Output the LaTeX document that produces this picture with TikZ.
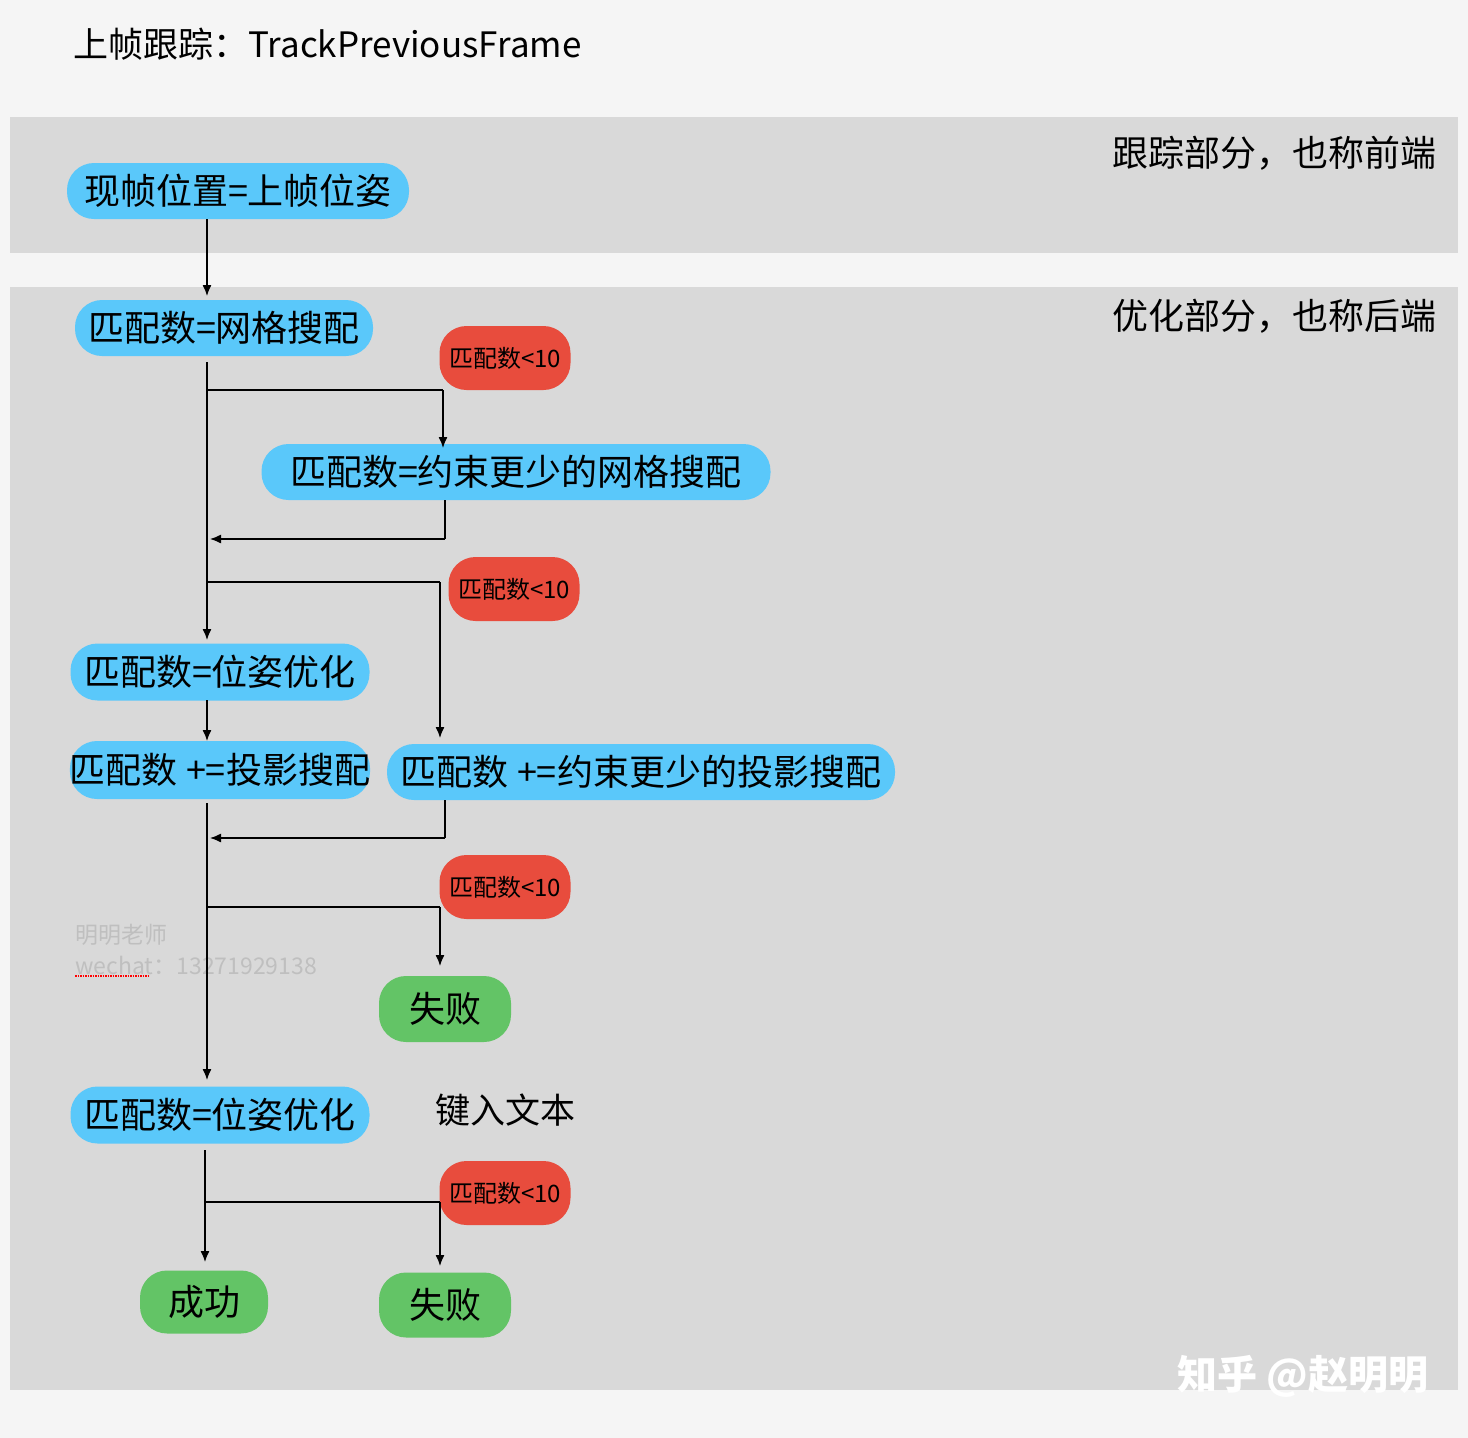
\documentclass[tikz,border=0pt]{standalone}
\usepackage{fontspec}
\setmainfont{Noto Sans CJK SC}
\usetikzlibrary{arrows.meta}
\definecolor{bgl}{HTML}{F5F5F5}
\definecolor{band}{HTML}{D9D9D9}
\definecolor{blu}{HTML}{5AC8FA}
\definecolor{rd}{HTML}{E84C3D}
\definecolor{gr}{HTML}{63C466}
\begin{document}
\begin{tikzpicture}[x=1pt,y=-1pt,
 pill/.style={rounded corners=27pt,inner sep=0pt,font=\fontsize{36}{38}\selectfont},
 bluebox/.style={pill,fill=blu},
 redbox/.style={pill,fill=rd,font=\fontsize{24}{26}\selectfont},
 greenbox/.style={pill,fill=gr},
 con/.style={line width=1.3pt,-{Latex[length=11pt,width=9pt]}},
 ln/.style={line width=1.3pt}]
\fill[bgl] (0,0) rectangle (1468,1438);
\useasboundingbox (0,0) rectangle (1468,1438);
\fill[band] (10,117) rectangle (1458,253);
\fill[band] (10,287) rectangle (1458,1390);
\node[anchor=west,font=\fontsize{35}{37}\selectfont] (title) at (70,44) {上帧跟踪：TrackPreviousFrame};
\node[anchor=east,font=\fontsize{36}{38}\selectfont] (tf) at (1440,153) {跟踪部分，也称前端};
\node[anchor=east,font=\fontsize{36}{38}\selectfont] (tb) at (1440,316) {优化部分，也称后端};

\node[bluebox,minimum width=342pt,minimum height=56pt] (n1) at (238,191) {现帧位置=上帧位姿};
\node[bluebox,minimum width=298pt,minimum height=56pt] (n2) at (224,328) {匹配数=网格搜配};
\node[redbox,minimum width=131pt,minimum height=64pt] (r1) at (505,358) {匹配数<10};
\node[bluebox,minimum width=509pt,minimum height=56pt] (n3) at (516,472) {匹配数=约束更少的网格搜配};
\node[redbox,minimum width=131pt,minimum height=64pt] (r2) at (514,589) {匹配数<10};
\node[bluebox,minimum width=299pt,minimum height=57pt] (n4) at (220,672) {匹配数=位姿优化};
\node[bluebox,minimum width=299pt,minimum height=58pt] (n5) at (220,770) {匹配数 +=投影搜配};
\node[bluebox,minimum width=508pt,minimum height=56pt] (n6) at (641,772) {匹配数 +=约束更少的投影搜配};
\node[redbox,minimum width=131pt,minimum height=64pt] (r3) at (505,887) {匹配数<10};
\node[greenbox,minimum width=132pt,minimum height=66pt] (f1) at (445,1009) {失败};
\node[bluebox,minimum width=299pt,minimum height=57pt] (n7) at (220,1115) {匹配数=位姿优化};
\node[font=\fontsize{35}{37}\selectfont] (kw) at (505,1110) {键入文本};
\node[redbox,minimum width=131pt,minimum height=64pt] (r4) at (505,1193) {匹配数<10};
\node[greenbox,minimum width=128pt,minimum height=63pt] (s) at (204,1302) {成功};
\node[greenbox,minimum width=132pt,minimum height=65pt] (f2) at (445,1305) {失败};

\node[anchor=west,text=black!25,font=\fontsize{23}{25}\selectfont] (wm1) at (72,935) {明明老师};
\node[anchor=west,text=black!25,font=\fontsize{23}{25}\selectfont] (wm2) at (72,965) {wechat：13271929138};
\draw[red,densely dotted,line width=1.5pt] (75,976) -- (150,976);
\node[anchor=east,text=white,font=\bfseries\fontsize{40}{42}\selectfont] (zh) at (1432,1376) {知乎 @赵明明};

% connectors
\draw[con] (n1.south -| 207,0) -- (207,296) coordinate (a1);
\coordinate (c1) at (207,362);
\draw[con] (c1) -- (207,640) coordinate (n4t);
\draw[ln] (207,390) -- (443,390);
\draw[con] (443,390) -- (443,448);
\draw[ln] (445,500) -- (445,539);
\draw[con] (445,539) -- (210,539);
\draw[ln] (207,582) -- (440,582);
\draw[con] (440,582) -- (440,738);
\draw[con] (207,700) -- (207,741);
\draw[con] (207,803) -- (207,1080);
\draw[ln] (445,800) -- (445,838);
\draw[con] (445,838) -- (210,838);
\draw[ln] (207,907) -- (440,907);
\draw[con] (440,907) -- (440,966);
\draw[con] (205,1150) -- (205,1262);
\draw[ln] (205,1202) -- (440,1202);
\draw[con] (440,1202) -- (440,1266);
\end{tikzpicture}
\end{document}
